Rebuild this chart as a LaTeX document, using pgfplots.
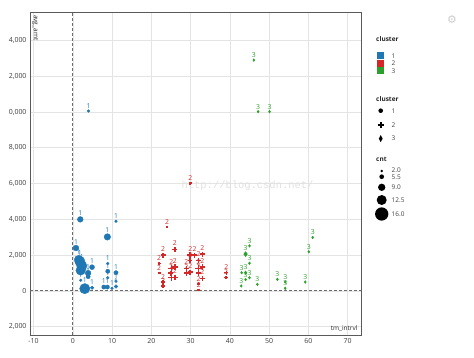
\documentclass[border=0pt]{standalone}
\usepackage{pgfplots}
\usepackage{pgfplotstable}
\pgfplotsset{compat=1.18}
\usepackage{fontspec}
\setmainfont{Open Sans}
\newfontfamily\dejavu{DejaVu Sans}
\newfontfamily\monof{Liberation Mono}
\definecolor{c1}{RGB}{31,119,180}
\definecolor{c2}{RGB}{214,39,40}
\definecolor{c3}{RGB}{44,160,44}
\definecolor{gridc}{RGB}{228,228,228}
\definecolor{framec}{RGB}{90,90,90}
\definecolor{tickc}{RGB}{60,60,60}

\pgfplotstableread{
x y cnt
4 10050 2
1.9 4000 6
11 3900 2
8.8 3020 7
0.8 2400 6
1.5 1750 10
1.8 1650 12
2.3 1400 12
2.0 1150 11
4.9 1330 5
3.9 1000 6
3.9 800 4
2.0 600 2
3.05 130 12
4.9 180 3
7.9 220 4
8.8 220 4
10.0 150 2
11.0 250 3
11.0 550 2
8.9 1540 2
8.9 1100 4
11.0 1020 4
8.9 740 2
}\clusterone

\pgfplotstableread{
x y cnt
24 3580 2
29.9 6020 2
23 2000 5
26 2330 5
22 1540 2
22 1000 2
23 280 3
23 490 3
25.1 1260 7
26 1330 6
25.1 740 7
26 760 6
25 1000 5
28.9 1260 5
28.9 1000 5
29.9 2000 6
29.9 1700 4
29.9 1050 5
31 2000 5
32 1700 5
32 1260 7
32 1000 6
33 2060 5
33 1330 6
33 700 5
32.1 50 2
32 400 2
39.1 1020 4
39 740 3
}\clustertwo

\pgfplotstableread{
x y cnt
46.1 12900 2
47.2 10020 2
50.1 10020 2
44 2060 5
45 2520 2
45 1550 2
44 1020 3
43 1020 2
45 740 2
44 640 2
42.9 280 2
47 370 2
52.1 650 2
54.1 500 2
54.1 150 2
59.2 500 2
60.1 2190 2
61.1 2990 2
}\clusterthree

\pgfplotsset{
  bubble/.style={scatter, only marks,
    scatter/use mapped color={draw=#1, fill=#1},
    visualization depends on={\thisrow{cnt}\as\cnt},
    scatter/@pre marker code/.append style={/tikz/mark size={0.6+0.38*\cnt}},
  },
  clabel/.style 2 args={only marks, mark=none,
    visualization depends on={\thisrow{cnt}\as\cnt},
    nodes near coords={#2},
    every node near coord/.append style={font=\fontsize{6.8}{7}\selectfont, text=#1, anchor=south, inner sep=0pt, yshift={1.5+0.38*\cnt}},
  },
}

\begin{document}
\begin{tikzpicture}[x=1bp,y=1bp]
\path[use as bounding box] (0,0) rectangle (474,357);
\begin{axis}[
  at={(30bp,22bp)}, anchor=south west,
  scale only axis, width=331bp, height=322bp,
  xmin=-10.9, xmax=73.4, ymin=-2460, ymax=15530,
  xtick={-10,0,...,70}, xticklabels={-10,0,10,20,30,40,50,60,70},
  ytick={-2000,0,2000,4000,6000,8000,10000,12000,14000},
  yticklabels={{2,000},{0},{2,000},{4,000},{6,000},{8,000},{0,000},{2,000},{4,000}},
  grid=major, major grid style={gridc, line width=0.6pt},
  axis line style={framec, line width=1pt},
  major tick length=0pt,
  tick label style={font=\fontsize{7}{8}\selectfont, text=tickc},
  scaled y ticks=false,
]
\draw[framec!90, line width=1pt, dash pattern=on 3pt off 2pt] (axis cs:0,-2460) -- (axis cs:0,15530);
\draw[framec!90, line width=1pt, dash pattern=on 3pt off 2pt] (axis cs:-10.9,0) -- (axis cs:73.4,0);
\node[font=\monof\fontsize{10.5}{11}\selectfont, text=black!12, anchor=center] at (axis cs:44.5,5900) {http://blog.csdn.net/};

\addplot[bubble=c1, mark=*] table[x=x,y=y] {\clusterone};
\addplot[bubble=c2, mark=+, line width=1.5pt] table[x=x,y=y] {\clustertwo};
\addplot[bubble=c3, mark=diamond*] table[x=x,y=y] {\clusterthree};
\addplot[clabel={c1}{1}] table[x=x,y=y] {\clusterone};
\addplot[clabel={c2}{2}] table[x=x,y=y] {\clustertwo};
\addplot[clabel={c3}{3}] table[x=x,y=y] {\clusterthree};

\node[rotate=-90, anchor=west, inner sep=0pt, font=\fontsize{6.5}{7}\selectfont, text=black!85] at (rel axis cs:0.016,0.994) {avg\_amt};
\node[anchor=south east, inner sep=0pt, font=\fontsize{6.5}{7}\selectfont, text=black!85] at (rel axis cs:0.99,0.01) {tm\_intrvl};
\end{axis}

% legend
\begin{scope}[font=\fontsize{6.5}{7}\selectfont]
\node[anchor=west, inner sep=0pt, font=\fontsize{6.5}{7}\selectfont\bfseries, text=black!85] at (376,317.7) {cluster};
\fill[c1] (376.5,297.7) rectangle (383.5,304.7);
\fill[c2] (376.5,290.2) rectangle (383.5,297.2);
\fill[c3] (376.5,282.7) rectangle (383.5,289.7);
\node[anchor=west, inner sep=0pt, text=black!75] at (391.5,301.2) {1};
\node[anchor=west, inner sep=0pt, text=black!75] at (391.5,293.7) {2};
\node[anchor=west, inner sep=0pt, text=black!75] at (391.5,286.2) {3};

\node[anchor=west, inner sep=0pt, font=\fontsize{6.5}{7}\selectfont\bfseries, text=black!85] at (376,257.7) {cluster};
\fill[black] (380.7,246.3) circle (2.3);
\draw[black, line width=1.6pt] (377.6,232) -- (383.8,232) (380.7,228.9) -- (380.7,235.1);
\fill[black] (380.7,222) -- (382.6,218.4) -- (380.7,214.8) -- (378.8,218.4) -- cycle;
\node[anchor=west, inner sep=0pt, text=black!75] at (391.5,246.3) {1};
\node[anchor=west, inner sep=0pt, text=black!75] at (391.5,232) {2};
\node[anchor=west, inner sep=0pt, text=black!75] at (391.5,218.5) {3};

\node[anchor=west, inner sep=0pt, font=\fontsize{6.5}{7}\selectfont\bfseries, text=black!85] at (376,198) {cnt};
\fill[black] (381.7,186) circle (1.35);
\fill[black] (381.7,180.3) circle (2.35);
\fill[black] (381.7,169.7) circle (3.65);
\fill[black] (381.7,157) circle (5);
\fill[black] (381.7,143) circle (6.65);
\node[anchor=west, inner sep=0pt, text=black!75] at (391.5,187.3) {2.0};
\node[anchor=west, inner sep=0pt, text=black!75] at (391.5,179.5) {5.5};
\node[anchor=west, inner sep=0pt, text=black!75] at (391.5,169.5) {9.0};
\node[anchor=west, inner sep=0pt, text=black!75] at (391.5,157) {12.5};
\node[anchor=west, inner sep=0pt, text=black!75] at (391.5,143) {16.0};
\end{scope}
\node[font=\dejavu\fontsize{11}{12}\selectfont, text=black!20] at (452,337) {⚙};
\end{tikzpicture}
\end{document}
